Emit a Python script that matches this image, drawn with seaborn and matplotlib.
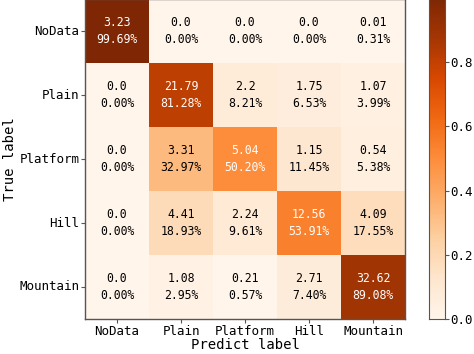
import numpy as np
import matplotlib
matplotlib.use("Agg")
import matplotlib.pyplot as plt
import seaborn as sns

# class names
labels = ["NoData", "Plain", "Platform", "Hill", "Mountain"]

# cell values (first line of each annotation), rows = true, cols = predicted
counts = [
    [3.23, 0.0, 0.0, 0.0, 0.01],
    [0.0, 21.79, 2.2, 1.75, 1.07],
    [0.0, 3.31, 5.04, 1.15, 0.54],
    [0.0, 4.41, 2.24, 12.56, 4.09],
    [0.0, 1.08, 0.21, 2.71, 32.62],
]

# row-normalised percentages (second line, also drives the colour)
percents = [
    [99.69, 0.00, 0.00, 0.00, 0.31],
    [0.00, 81.28, 8.21, 6.53, 3.99],
    [0.00, 32.97, 50.20, 11.45, 5.38],
    [0.00, 18.93, 9.61, 53.91, 17.55],
    [0.00, 2.95, 0.57, 7.40, 89.08],
]

cbar_ticks = [0.0, 0.2, 0.4, 0.6, 0.8]

plt.rcParams["font.family"] = ["DejaVu Sans Mono"]

W, H = 474, 354
fig = plt.figure(figsize=(W / 100, H / 100), dpi=100)
ax = fig.add_axes([85 / W, 35 / H, 320 / W, 320 / H])
cax = fig.add_axes([429 / W, 35 / H, 16 / W, 320 / H])

ratio = np.array(percents) / 100.0
sns.heatmap(ratio, ax=ax, cbar_ax=cax, cmap="Oranges", vmin=0,
            vmax=ratio.max(), xticklabels=labels, yticklabels=labels)

thresh = ratio.max() / 2.0
for i in range(len(labels)):
    for j in range(len(labels)):
        txt = f"{counts[i][j]}\n{percents[i][j]:.2f}%"
        color = "white" if ratio[i, j] > thresh else "black"
        ax.text(j + 0.5, i + 0.5, txt, ha="center", va="center",
                fontsize=8.3, color=color, linespacing=1.4)

for sp in ax.spines.values():
    sp.set_visible(True)
    sp.set_color("#555555")
    sp.set_linewidth(1.0)

ax.tick_params(axis="both", length=3, width=0.8, color="#555555",
               labelsize=9, pad=1)
ax.set_yticklabels(labels, rotation=0)
ax.set_xticklabels(labels, rotation=0)
ax.set_xlabel("Predict label", fontsize=10, labelpad=0)
ax.set_ylabel("True label", fontsize=10, labelpad=2)

cax.set_yticks(cbar_ticks)
cax.tick_params(length=3, width=0.8, color="#555555", labelsize=9, pad=1)
for sp in cax.spines.values():
    sp.set_visible(True)
    sp.set_color("#555555")

fig.savefig("out.png", dpi=100)
